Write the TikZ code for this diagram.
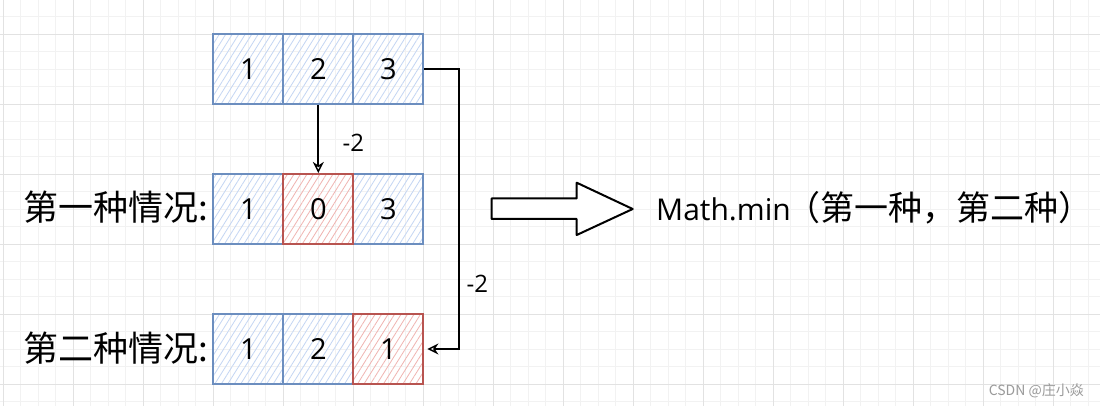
\documentclass[tikz,border=0pt]{standalone}
\usepackage{fontspec}
\setmainfont{Noto Sans CJK SC}
\newfontfamily\cjk{Noto Sans CJK SC}
\newfontfamily\hand{Open Sans}
\usetikzlibrary{patterns.meta,arrows.meta,calc}
\definecolor{bstroke}{HTML}{6C8EBF}
\definecolor{bhatch}{HTML}{C4D6F3}
\definecolor{rstroke}{HTML}{B85450}
\definecolor{rhatch}{HTML}{F0B4B1}
\definecolor{gminor}{HTML}{F2F2F2}
\definecolor{gmajor}{HTML}{E2E2E2}
\definecolor{wmark}{HTML}{9A9A9A}
\begin{document}
\begin{tikzpicture}[x=1pt,y=-1pt,
  cell/.style={minimum width=70pt,minimum height=70pt,inner sep=0pt,line width=2.2pt,
    font=\hand\fontsize{29}{31}\selectfont},
  bluecell/.style={cell,draw=bstroke,pattern={Lines[angle=58,distance=5.5pt,line width=0.8pt]},pattern color=bhatch},
  redcell/.style={cell,draw=rstroke,pattern={Lines[angle=58,distance=5.5pt,line width=0.8pt]},pattern color=rhatch},
  rowlabel/.style={anchor=base east,inner sep=0pt,font=\cjk\fontsize{35}{38}\selectfont},
  edgelbl/.style={inner sep=0pt,font=\hand\fontsize{24}{26}\selectfont},
  conn/.style={line width=2pt,-{Stealth[open,length=11pt,width=11pt,line width=1.4pt]}},
  bigarrow/.style={line width=2pt,draw=black,fill=white,line join=round}
]
\useasboundingbox (0,0) rectangle (1100,406);
\fill[white] (0,0) rectangle (1100,406);
% grid
\foreach \i in {0,...,62} \draw[gminor,line width=0.8pt] ({3.3+17.5*\i},0) -- ({3.3+17.5*\i},406);
\foreach \j in {-1,...,21} \draw[gminor,line width=0.8pt] (0,{34+17.5*\j}) -- (1100,{34+17.5*\j});
\foreach \i in {0,...,15} \draw[gmajor,line width=0.9pt] ({3.3+70*\i},0) -- ({3.3+70*\i},406);
\foreach \j in {0,...,5} \draw[gmajor,line width=0.9pt] (0,{34+70*\j}) -- (1100,{34+70*\j});

% top row
\node[bluecell] (t1) at (248.3,69) {1};
\node[bluecell] (t2) at (318.3,69) {2};
\node[bluecell] (t3) at (388.3,69) {3};
% first case
\node[bluecell] (a1) at (248.3,209) {1};
\node[bluecell] (a3) at (388.3,209) {3};
\node[redcell] (a2) at (318.3,209) {0};
\node[rowlabel] (la) at (208,221) {第一种情况:};
% second case
\node[bluecell] (b1) at (248.3,349) {1};
\node[bluecell] (b2) at (318.3,349) {2};
\node[redcell] (b3) at (388.3,349) {1};
\node[rowlabel] (lb) at (208,361) {第二种情况:};

% connectors
\draw[conn] (t2.south) -- (a2.north) node[edgelbl,pos=0.56,xshift=35pt] {-2};
\draw[conn,shorten >=3pt] (t3.east) -- ++(35,0) coordinate (elb) |- (b3.east)
  node[edgelbl,pos=0.383,xshift=18pt] {-2};

% big arrow
\draw[bigarrow] (491.7,198.3) -- (576.7,198.3) -- (576.7,182.7) -- (632.7,209)
  -- (576.7,235) -- (576.7,219) -- (491.7,219) -- cycle;

% result
\node[anchor=base west,inner sep=0pt] (res) at (656,220)
  {{\hand\fontsize{30}{32}\selectfont Math.min}{\cjk\fontsize{34}{36}\selectfont \kern-4pt（第一种，第二种）}};

% watermark
\node[anchor=east,inner sep=0pt,text=wmark,font=\cjk\fontsize{14}{16}\selectfont] (wm) at (1084,391) {CSDN @庄小焱};
\end{tikzpicture}
\end{document}
